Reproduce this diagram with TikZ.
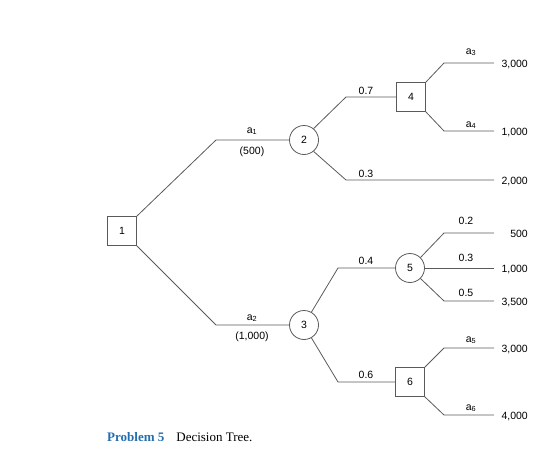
\documentclass[tikz,border=0pt]{standalone}
\usepackage{fontspec}
\setmainfont{Liberation Sans}
\newfontfamily\capfont{Liberation Serif}
\definecolor{edgegray}{RGB}{90,90,90}
\definecolor{capblue}{RGB}{35,110,175}
\begin{document}
\begin{tikzpicture}[x=1pt,y=-1pt,
  every node/.style={font=\fontsize{10.5}{12}\selectfont},
  decbox/.style={draw=edgegray,line width=0.8pt,rectangle,minimum size=29pt,inner sep=0pt,fill=white},
  chance/.style={draw=edgegray,line width=0.8pt,circle,minimum size=29pt,inner sep=0pt,fill=white},
  edge/.style={draw=edgegray,line width=0.8pt},
  lbl/.style={inner sep=0pt,anchor=base},
  payoff/.style={inner sep=0pt,anchor=base east}]
\useasboundingbox (0,0) rectangle (549,455);
% nodes
\node[decbox] (n1) at (122,231) {1};
\node[chance] (c2) at (304,140) {2};
\node[chance] (c3) at (304,325) {3};
\node[decbox] (n4) at (411,97) {4};
\node[chance] (c5) at (410,268) {5};
\node[decbox] (n6) at (410,382) {6};
% bend points
\coordinate (k12) at (216,140);
\coordinate (k13) at (216,325);
\coordinate (k24) at (346,97);
\coordinate (k2e) at (346,180);
\coordinate (e2) at (494,180);
\coordinate (k4a) at (444,63);
\coordinate (e4a) at (494,63);
\coordinate (k4b) at (444,131);
\coordinate (e4b) at (494,131);
\coordinate (k35) at (338,268);
\coordinate (k36) at (338,382);
\coordinate (k5a) at (444,233);
\coordinate (e5a) at (494,233);
\coordinate (e5b) at (494,268);
\coordinate (k5c) at (444,301);
\coordinate (e5c) at (494,301);
\coordinate (k6a) at (444,348);
\coordinate (e6a) at (494,348);
\coordinate (k6b) at (444,415);
\coordinate (e6b) at (494,415);
% connectors
\draw[edge] (n1.north east) -- (k12) -- (c2.west);
\draw[edge] (n1.south east) -- (k13) -- (c3.west);
\draw[edge] (c2.50) -- (k24) -- (n4.west);
\draw[edge] (c2.-50) -- (k2e) -- (e2);
\draw[edge] (n4.north east) -- (k4a) -- (e4a);
\draw[edge] (n4.south east) -- (k4b) -- (e4b);
\draw[edge] (c3.60) -- (k35) -- (c5.west);
\draw[edge] (c3.-60) -- (k36) -- (n6.west);
\draw[edge] (c5.45) -- (k5a) -- (e5a);
\draw[edge] (c5.east) -- (e5b);
\draw[edge] (c5.-45) -- (k5c) -- (e5c);
\draw[edge] (n6.north east) -- (k6a) -- (e6a);
\draw[edge] (n6.south east) -- (k6b) -- (e6b);
% branch labels
\node[lbl] (la1) at (252,133) {a\textsubscript{1}};
\node[lbl] (lc1) at (252,154) {(500)};
\node[lbl] (la2) at (252,320) {a\textsubscript{2}};
\node[lbl] (lc2) at (252,339) {(1,000)};
\node[lbl] (p07) at (366,94) {0.7};
\node[lbl] (p03a) at (366,177) {0.3};
\node[lbl] (la3) at (471,54) {a\textsubscript{3}};
\node[lbl] (la4) at (471,127) {a\textsubscript{4}};
\node[lbl] (p04) at (366,264) {0.4};
\node[lbl] (p06) at (366,378) {0.6};
\node[lbl] (p02) at (466,224) {0.2};
\node[lbl] (p03b) at (466,261) {0.3};
\node[lbl] (p05) at (466,296) {0.5};
\node[lbl] (la5) at (471,342) {a\textsubscript{5}};
\node[lbl] (la6) at (471,410) {a\textsubscript{6}};
% payoffs
\node[payoff] (v1) at (528,67) {3,000};
\node[payoff] (v2) at (528,135) {1,000};
\node[payoff] (v3) at (528,184) {2,000};
\node[payoff] (v4) at (528,237) {500};
\node[payoff] (v5) at (528,272) {1,000};
\node[payoff] (v6) at (528,305) {3,500};
\node[payoff] (v7) at (528,352) {3,000};
\node[payoff] (v8) at (528,419) {4,000};
% caption
\node[inner sep=0pt,anchor=base west,font=\capfont\fontsize{13}{15}\selectfont] (cap) at (107,441)
  {\textcolor{capblue}{\textbf{Problem 5}}\hspace{12pt}Decision Tree.};
\end{tikzpicture}
\end{document}
